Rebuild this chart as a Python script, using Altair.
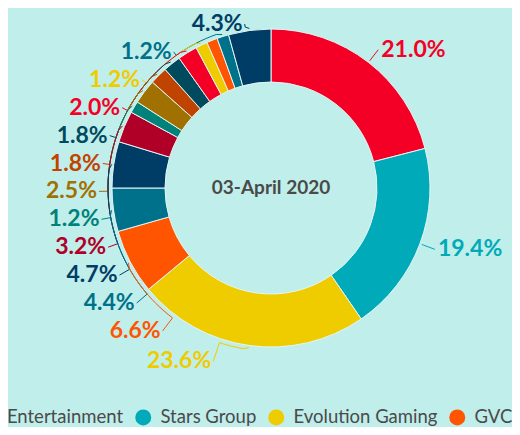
import altair as alt
import numpy as np
import pandas as pd

# ---------------- data ----------------
companies = ["Flutter Entertainment", "Stars Group", "Evolution Gaming", "GVC",
             "Company 5", "Company 6", "Company 7", "Company 8", "Company 9",
             "Company 10", "Company 11", "Company 12", "Company 13", "Company 14",
             "Company 15", "Company 16"]
shares = [21.0, 19.4, 23.6, 6.6, 4.4, 4.7, 3.2, 1.2, 2.5, 1.8, 1.8, 2.0, 1.2, 1.1, 1.2, 4.3]
colors = ["#f40027", "#00aab9", "#efcc00", "#ff5500", "#00718a", "#003d66",
          "#b00027", "#00827a", "#a07000", "#c04400", "#004a5e", "#f40027",
          "#efcc00", "#ff5500", "#00718a", "#003d66"]
label_shown = [True] * 13 + [False] + [True] * 2
legend_items = companies[:4]
center_title = "03-April 2020"

# ---------------- layout constants (image pixel space) ----------------
W, H = 504, 419
OFF = 8
CX, CY = 271, 188
R_OUT, R_IN = 159, 106
R_LAB = 175
R_LINE = 163
GAP = 27.9
Y_MIN = 24
# ellipse semi-axes for the shifted label column (top half / bottom half)
A_TOP, B_TOP = 170, 166
A_BOT, B_BOT = 172, 184
FONT = "Lato"
BG = "#c0eeea"

df = pd.DataFrame({"company": companies, "share": shares, "hex": colors,
                   "idx": range(len(companies)), "shown": label_shown})
total = df["share"].sum()
mid = (df["share"].cumsum() - df["share"] / 2) / total * 2 * np.pi
df["mid"] = mid
df["x0"] = CX + R_LAB * np.sin(mid)
df["y0"] = CY - R_LAB * np.cos(mid)
df["side"] = np.where(np.sin(mid) < 0, "left", "right")
df["label"] = df["share"].map(lambda v: f"{v:.1f}%")

lab = df[df["shown"]].copy()
parts = []
for side, g in lab.groupby("side"):
    g = g.sort_values("y0").copy()
    ys = []
    prev = Y_MIN - GAP
    for y in g["y0"]:
        y = max(y, prev + GAP)
        ys.append(y)
        prev = y
    g["ly"] = ys
    dy = g["ly"] - CY
    if side == "left":
        A = np.where(dy < 0, A_TOP, A_BOT)
        B = np.where(dy < 0, B_TOP, B_BOT)
        dx = A * np.sqrt(np.clip(1 - dy ** 2 / B ** 2, 0, None))
        g["lx"] = CX - dx
    else:
        dx = np.sqrt(np.clip(R_LAB ** 2 - dy ** 2, 0, None))
        g["lx"] = CX + dx
    parts.append(g)
lab = pd.concat(parts)
lab["tx"] = np.where(lab["side"] == "left", lab["lx"] - 2, lab["lx"] + 3)

# leader lines: arc hugging the ring, then out to the label
rows = []
for _, r in lab.iterrows():
    phi = np.arctan2(r["lx"] - CX, -(r["ly"] - CY))
    if phi < 0:
        phi += 2 * np.pi
    a0 = r["mid"]
    n = int(np.ceil(abs(phi - a0) / np.radians(2))) + 1
    angs = np.linspace(a0, phi, max(n, 2))
    rad = np.full(len(angs), float(R_LINE))
    rad[0] = R_OUT + 2
    k = 0
    for a, rr in zip(angs, rad):
        rows.append({"id": r["company"], "step": k, "hex": r["hex"],
                     "x": CX + rr * np.sin(a), "y": CY - rr * np.cos(a)})
        k += 1
    rows.append({"id": r["company"], "step": k, "hex": r["hex"],
                 "x": r["lx"], "y": r["ly"]})
lines_df = pd.DataFrame(rows)

xs = alt.Scale(domain=[OFF, OFF + W], nice=False, zero=False)
ys_ = alt.Scale(domain=[OFF, OFF + H], nice=False, zero=False, reverse=True)

arcs = alt.Chart(df).mark_arc(outerRadius=R_OUT, innerRadius=R_IN,
                              stroke="#e4f6f4", strokeWidth=1).encode(
    theta=alt.Theta("share:Q", stack=True),
    order=alt.Order("idx:Q"),
    color=alt.Color("company:N",
                    scale=alt.Scale(domain=companies, range=colors),
                    legend=alt.Legend(values=legend_items, orient="none",
                                      legendX=-86, legendY=400,
                                      direction="horizontal", title=None,
                                      symbolType="circle", symbolSize=256,
                                      symbolStrokeWidth=0, symbolOpacity=1,
                                      labelFont=FONT, labelFontSize=18.5,
                                      labelColor="#4a4a4a", labelOffset=8,
                                      columnPadding=10, padding=0,
                                      labelLimit=0)),
    x=alt.XDatum(CX, scale=xs, axis=None),
    y=alt.YDatum(CY, scale=ys_, axis=None),
)

lines = alt.Chart(lines_df).mark_line(strokeWidth=1).encode(
    x=alt.X("x:Q", scale=xs, axis=None),
    y=alt.Y("y:Q", scale=ys_, axis=None),
    detail="id:N",
    order="step:Q",
    color=alt.Color("hex:N", scale=None),
)

def label_layer(side, align):
    return alt.Chart(lab[lab["side"] == side]).mark_text(
        font=FONT, fontSize=23, fontWeight="bold", align=align,
        baseline="middle").encode(
        x=alt.X("tx:Q", scale=xs, axis=None),
        y=alt.Y("ly:Q", scale=ys_, axis=None),
        text="label:N",
        color=alt.Color("hex:N", scale=None),
    )

center = alt.Chart(pd.DataFrame({"t": [center_title]})).mark_text(
    font=FONT, fontSize=19, fontWeight="bold", color="#4a4a4a",
    align="center", baseline="middle").encode(
    x=alt.XDatum(CX, scale=xs, axis=None),
    y=alt.YDatum(CY, scale=ys_, axis=None),
    text="t:N",
)

chart = alt.layer(arcs, lines, label_layer("left", "right"),
                  label_layer("right", "left"), center).properties(
    width=W, height=H, background=BG, padding=0, autosize="none"
).configure_view(stroke=None)

chart.save("out.html", embed_options={"renderer": "svg", "actions": False})
